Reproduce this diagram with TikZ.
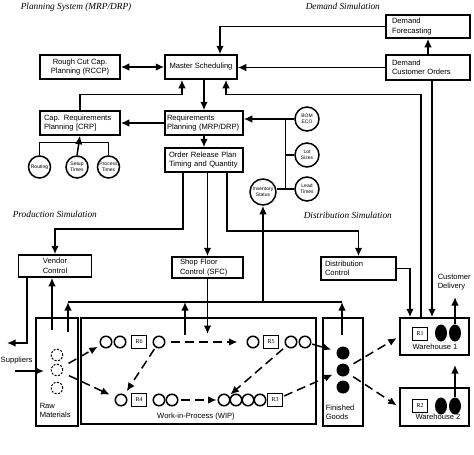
\documentclass[tikz,border=0pt]{standalone}
\usepackage{fontspec}
\setmainfont{Liberation Sans}
\newfontfamily\seriffont{Liberation Serif}
\usetikzlibrary{arrows.meta,shapes.geometric}

\begin{document}
\begin{tikzpicture}[x=1pt, y=-1pt, line width=1.5pt,
    box/.style={draw, rectangle, inner ysep=2pt, align=left, font=\fontsize{7.6}{9.5}\selectfont},
    bubble/.style={draw, circle, inner sep=0pt, align=center, font=\fontsize{5}{5.8}\selectfont},
    area/.style={draw, rectangle, inner sep=0pt},
    part/.style={draw, circle, minimum size=11.5pt, inner sep=0pt},
    rawpart/.style={part, line width=1pt, dash pattern=on 2pt off 1.5pt},
    goods/.style={fill=black, circle, minimum size=13pt, inner sep=0pt},
    stock/.style={fill=black, ellipse, minimum width=12pt, minimum height=17pt, inner sep=0pt},
    res/.style={draw, rectangle, minimum width=15pt, minimum height=13pt, inner sep=0pt, font=\seriffont\fontsize{6}{6}\selectfont},
    txt/.style={align=left, inner sep=0pt, font=\fontsize{7.6}{8.8}\selectfont},
    heading/.style={inner sep=0pt, font=\seriffont\itshape\fontsize{9.3}{10}\selectfont},
    arr/.style={-{Latex[length=8.5pt,width=7.5pt]}},
    arrs/.style={{Latex[length=8.5pt,width=7.5pt]}-{Latex[length=8.5pt,width=7.5pt]}},
    flow/.style={arr, dash pattern=on 9pt off 5pt},
  ]
  \useasboundingbox (0,0) rectangle (474,455);

  % section headings
  \node[heading, anchor=west] (tplan) at (20,7) {Planning System (MRP/DRP)};
  \node[heading, anchor=west] (tdem) at (305,6) {Demand Simulation};
  \node[heading, anchor=west] (tprod) at (12,214) {Production Simulation};
  \node[heading, anchor=west] (tdist) at (303,215) {Distribution Simulation};

  % planning and demand boxes
  \node[box, text width=72pt, inner xsep=6pt, minimum height=23pt] (df) at (428,26.5) {Demand\\Forecasting};
  \node[box, text width=72pt, inner xsep=6pt, minimum height=25pt] (dco) at (428,67.5) {Demand\\Customer Orders};
  \node[box, minimum width=72pt, minimum height=24pt] (ms) at (201,67) {Master Scheduling};
  \node[box, align=center, minimum width=80pt, minimum height=24pt] (rccp) at (80,67) {Rough Cut Cap.\\Planning (RCCP)};
  \node[box, text width=72pt, inner xsep=4pt, minimum height=24pt] (crp) at (80,123) {Cap. Requirements\\Planning [CRP]};
  \node[box, text width=74pt, inner xsep=2pt, minimum height=24pt] (rp) at (204,123) {Requirements\\Planning (MRP/DRP)};
  \node[box, text width=70pt, inner xsep=4pt, minimum height=24pt] (orp) at (204,160) {Order Release Plan\\Timing and Quantity};

  \node[bubble, minimum size=22pt] (routing) at (39.5,167) {Routing};
  \node[bubble, minimum size=22pt] (setup) at (77,167) {Setup\\Times};
  \node[bubble, minimum size=22pt] (process) at (108.5,167) {Process\\Times};
  \node[bubble, minimum size=24pt] (bom) at (307,119) {BOM\\ECO};
  \node[bubble, minimum size=24pt] (lot) at (307,155) {Lot\\Sizes};
  \node[bubble, minimum size=24pt] (lead) at (307,189) {Lead\\Times};
  \node[bubble, minimum size=26pt] (inv) at (263,192) {Inventory\\Status};

  % control boxes
  \node[box, align=center, minimum width=73pt, minimum height=22pt] (vc) at (55,266) {Vendor\\Control};
  \node[box, text width=55pt, inner xsep=8pt, minimum height=21pt] (sfc) at (207.5,267.5) {Shop Floor\\Control (SFC)};
  \node[box, text width=67pt, inner xsep=4pt, minimum height=23pt] (dc) at (358.5,268.5) {Distribution\\Control};

  % stock areas
  \node[area, minimum width=42pt, minimum height=108pt] (rm) at (57,372) {};
  \node[area, minimum width=235pt, minimum height=106pt] (wip) at (198.5,371) {};
  \node[area, minimum width=40pt, minimum height=108pt] (fg) at (343,372) {};
  \node[area, minimum width=69pt, minimum height=37pt] (wh1) at (434.5,336.5) {};
  \node[area, minimum width=69pt, minimum height=38pt] (wh2) at (434.5,407) {};

  \node[txt, anchor=north west] (rmtxt) at (39,403) {Raw\\Materials};
  \node[txt] (wiptxt) at (196,417) {Work-in-Process (WIP)};
  \node[txt, anchor=north west] (fgtxt) at (325,404) {Finished\\Goods};
  \node[txt] (wh1txt) at (435,347) {Warehouse 1};
  \node[txt] (wh2txt) at (438,417) {Warehouse 2};
  \node[txt, anchor=south west] (cdtxt) at (437,291) {Customer\\Delivery};
  \node[txt, anchor=west] (supl) at (0,361) {Suppliers};

  % parts in stock
  \node[rawpart] (rm1) at (57,355) {};
  \node[rawpart] (rm2) at (57,370) {};
  \node[rawpart] (rm3) at (57,388) {};

  \node[part] (t1) at (106,342) {};
  \node[part] (t2) at (120,342) {};
  \node[res] (r6) at (139,342) {R6};
  \node[part] (t3) at (159,342) {};
  \node[part] (t4) at (253,342) {};
  \node[res] (r5) at (271,342) {R5};
  \node[part] (t5) at (291,342) {};
  \node[part] (t6) at (305,342) {};

  \node[part] (b1) at (121,400) {};
  \node[res] (r4) at (139,400) {R4};
  \node[part] (b2) at (159,400) {};
  \node[part] (b3) at (172,400) {};
  \node[part] (b4) at (224,400) {};
  \node[part] (b5) at (236,400) {};
  \node[part] (b6) at (248,400) {};
  \node[part] (b7) at (260,400) {};
  \node[res] (r3) at (275,400) {R3};

  \node[goods] (fg1) at (343,353) {};
  \node[goods] (fg2) at (343,370) {};
  \node[goods] (fg3) at (343,387) {};

  \node[res] (r1) at (420,334) {R1};
  \node[stock] (s11) at (441,333) {};
  \node[stock] (s12) at (455,333) {};
  \node[res] (r2) at (420,406) {R2};
  \node[stock] (s21) at (441,406) {};
  \node[stock] (s22) at (455,406) {};

  % planning connections
  \draw[arr] (df.west) -| ([xshift=19pt]ms.north);
  \draw[arr] (dco.west) -- (dco.west -| ms.east);
  \draw[arr] (dco.north) -- (df.south);
  \draw[arrs] (rccp.east) -- (ms.west);
  \draw[arr] (ms.south -| rp.north) -- (rp.north);
  \draw[arr] (rp.south) -- (orp.north);
  \draw[arr] (rp.west) -- (crp.east);
  \draw[arr] (crp.north) -- ++(0,-16) -| ([xshift=-19pt]ms.south);
  \coordinate (wh1up) at ([xshift=-13.5pt]wh1.north);
  \draw[arr] (wh1up) -- ++(0,-223) -| ([xshift=25pt]ms.south);
  \coordinate (dcodown) at ([xshift=4pt]dco.south);
  \draw[arr] (dcodown) -- (dcodown |- wh1.north);

  \draw (routing.north) -- ++(0,-13) -| (process.north);
  \draw[arr] (setup.north) -- (crp.south);

  \coordinate (bartop) at ([xshift=-9pt]bom.west);
  \draw[arr] (bom.west) -- (bom.west -| rp.east);
  \draw (bartop) |- (lead.west);
  \draw (bartop |- lot.west) -- (lot.west);
  \draw (lead.west) -- (lead.west -| inv.east);

  % release of orders
  \coordinate (orpl) at ([xshift=-21pt]orp.south);
  \coordinate (orpr) at ([xshift=23pt]orp.south);
  \draw[arr] (orpl) -- ++(0,56) -| (vc.north);
  \draw[arr] (orp.south -| sfc.north) -- (sfc.north);
  \draw[arr] (orpr) -- ++(0,58) -| (dc.north);
  \coordinate (wipin) at (207.5,334);
  \draw[arr] (sfc.south) -- (wipin);
  \draw[arr] (dc.east) -| ([xshift=-24.5pt]wh1.north);

  % status feedback
  \coordinate (rmup) at (68,332);
  \coordinate (wipup) at (185,335);
  \coordinate (fgup) at (342,335);
  \coordinate (busl) at (68,302);
  \coordinate (busr) at (342,302);
  \draw (busl) -- (busr);
  \draw[arr] (rmup) -- (busl);
  \draw[arr] (wipup) -- (wipup |- busl);
  \draw[arr] (fgup) -- (busr);
  \draw[arr] (inv.south |- busl) -- (inv.south);

  % vendor and suppliers
  \coordinate (rmvc) at (52,330);
  \draw[arr] (rmvc) -- (rmvc |- vc.south);
  \coordinate (supout) at (7,343);
  \draw[arr] ([xshift=-28pt]vc.south) |- (supout);
  \coordinate (supin) at (15,371);
  \coordinate (rmin) at (44,371);
  \draw[arr] (supin) -- (rmin);

  % material flow
  \draw[flow, shorten <=7pt, shorten >=3pt] (rm2) -- (t1);
  \draw[flow, shorten <=7pt, shorten >=6pt] (rm2) -- (b1);
  \draw[flow, shorten <=5pt, shorten >=9pt] (t3) -- (t4);
  \draw[flow, shorten <=2pt, shorten >=4pt] (t3) -- (b1);
  \draw[flow, shorten <=2pt, shorten >=1pt] (b3) -- (b4);
  \draw[flow, shorten <=4pt, shorten >=2pt] (t5) -- (b4);
  \draw[flow, shorten <=1pt, shorten >=4pt] (r3) -- (fg2);
  \draw[arr, shorten <=1pt, shorten >=5pt] (t6) -- (fg1);
  \draw[flow, shorten <=5pt, shorten >=3pt] (fg2) -- (wh1.west);
  \draw[flow, shorten <=5pt, shorten >=3pt] (fg2) -- (wh2.west);

  % deliveries
  \coordinate (cd) at (454,297);
  \draw[arr] (s12.north) -- (s12.north |- cd);
  \coordinate (wh2top) at (455,365);
  \draw[arr] (s22.north) -- (wh2top);
\end{tikzpicture}
\end{document}
